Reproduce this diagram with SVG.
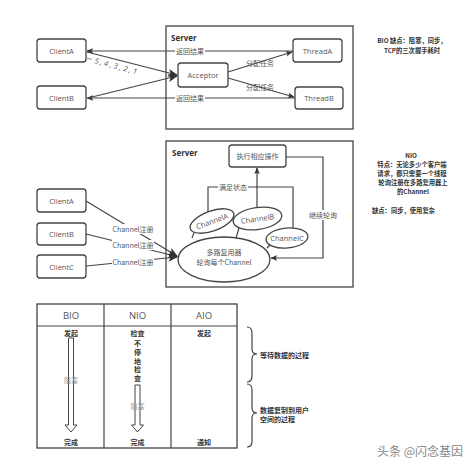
<svg xmlns="http://www.w3.org/2000/svg" width="474" height="470" viewBox="0 0 474 470">
<defs>
<style>
.t{font-family:"Open Sans","Noto Sans CJK SC",sans-serif;fill:#555;font-size:7.5px;text-anchor:middle}
.c{font-family:"Noto Sans CJK SC","Open Sans",sans-serif;fill:#555;font-size:7px;text-anchor:middle}
.b{font-family:"Noto Sans CJK SC","Open Sans",sans-serif;fill:#333;font-size:7px;font-weight:bold;text-anchor:middle}
.n{font-family:"Noto Sans CJK SC","Open Sans",sans-serif;fill:#333;font-size:6.3px;font-weight:bold;text-anchor:middle}
.srv{font-family:"Open Sans","DejaVu Sans",sans-serif;fill:#333;font-size:8px;font-weight:bold}
.box{fill:#fff;stroke:#444;stroke-width:1.3}
.frame{fill:none;stroke:#444;stroke-width:1.3}
.ln{fill:none;stroke:#444;stroke-width:1.2}
.bg{fill:#fff}
</style>
<marker id="ah" viewBox="0 0 10 10" refX="9" refY="5" markerWidth="7" markerHeight="7" markerUnits="userSpaceOnUse" orient="auto">
<path d="M0,1 L10,5 L0,9 L2.5,5 z" fill="#333"/>
</marker>
<marker id="ahb" viewBox="0 0 10 10" refX="9" refY="5" markerWidth="10" markerHeight="10" markerUnits="userSpaceOnUse" orient="auto">
<path d="M0,1 L10,5 L0,9 L2.5,5 z" fill="#333"/>
</marker>
</defs>
<rect width="474" height="470" fill="#fff"/>

<!-- ===== BIO section ===== -->
<g id="server1"><rect class="frame" x="166" y="26" width="187" height="103"/><text class="srv" x="171" y="41">Server</text></g>
<g id="connectors1">
<line class="ln" x1="293" y1="51" x2="87" y2="51" marker-end="url(#ah)"/>
<line class="ln" x1="295" y1="98" x2="87" y2="98" marker-end="url(#ah)"/>
<line class="ln" x1="228" y1="72" x2="292" y2="52" marker-end="url(#ah)"/>
<line class="ln" x1="228" y1="78" x2="294" y2="97" marker-end="url(#ah)"/>
<line class="ln" x1="87" y1="52" x2="177" y2="75" marker-end="url(#ahb)"/>
<line class="ln" x1="88" y1="98" x2="177" y2="76" marker-end="url(#ahb)"/>
<rect class="bg" x="175" y="46" width="30" height="10"/>
<text class="c" x="190" y="54">返回结果</text>
<rect class="bg" x="175" y="93" width="30" height="10"/>
<text class="c" x="190" y="101">返回结果</text>
<text class="c" x="260" y="66">分配任务</text>
<text class="c" x="260" y="90">分配任务</text>
<line x1="87" y1="58" x2="92" y2="59.5" stroke="#777" stroke-width="0.8"/>
<text class="t" x="94" y="63" transform="rotate(15 94 63)" style="text-anchor:start;font-style:italic">5 , 4 , 3 , 2 , 1</text>
</g>
<g id="clientA1"><rect class="box" x="37" y="39" width="49" height="23" rx="3"/><text class="t" x="61.5" y="53.5">ClientA</text></g>
<g id="clientB1"><rect class="box" x="37" y="86" width="49" height="23" rx="3"/><text class="t" x="61.5" y="100.5">ClientB</text></g>
<g id="acceptor"><rect class="box" x="178" y="63" width="50" height="24" rx="3"/><text class="t" x="203" y="78">Acceptor</text></g>
<g id="threadA"><rect class="box" x="293" y="39" width="49" height="23" rx="3"/><text class="t" x="317.5" y="53.5">ThreadA</text></g>
<g id="threadB"><rect class="box" x="295" y="87" width="48" height="22" rx="3"/><text class="t" x="319" y="101">ThreadB</text></g>
<g id="bioNote">
<text class="n" x="412" y="43">BIO 缺点：阻塞，同步，</text>
<text class="n" x="412" y="52.5">TCP的三次握手耗时</text>
</g>

<!-- ===== NIO section ===== -->
<g id="server2"><rect class="frame" x="166" y="141" width="187" height="146"/><text class="srv" x="172" y="156">Server</text></g>
<g id="connectors2">
<line class="ln" x1="86" y1="201" x2="177" y2="256" marker-end="url(#ahb)"/>
<line class="ln" x1="86" y1="234" x2="177" y2="256.5" marker-end="url(#ahb)"/>
<line class="ln" x1="86" y1="266" x2="177" y2="257" marker-end="url(#ahb)"/>
<rect class="bg" x="112" y="224" width="42" height="10"/>
<text class="c" x="133" y="232">Channel注册</text>
<rect class="bg" x="112" y="240" width="42" height="10"/>
<text class="c" x="133" y="248">Channel注册</text>
<rect class="bg" x="112" y="257" width="42" height="10"/>
<text class="c" x="133" y="265">Channel注册</text>
<polyline class="ln" points="208,213 208,187 293,187 293,229"/>
<rect class="bg" x="218" y="182" width="30" height="10"/>
<text class="c" x="233" y="190">满足状态</text>
<line class="ln" x1="257" y1="207" x2="257" y2="168" marker-end="url(#ah)"/>
<polyline class="ln" points="286,157 323,157 323,258 271,258" marker-end="url(#ah)"/>
<rect class="bg" x="308" y="210" width="30" height="10"/>
<text class="c" x="323" y="218">继续轮询</text>
<line class="ln" x1="195" y1="230" x2="192" y2="238"/>
<line class="ln" x1="239" y1="228" x2="236" y2="238"/>
<line class="ln" x1="271" y1="244" x2="267" y2="248"/>
</g>
<g id="exec"><rect class="box" x="229" y="145" width="57" height="22" rx="3"/><text class="c" x="257.5" y="159">执行相应操作</text></g>
<g id="clientA2"><rect class="box" x="37" y="189" width="49" height="23" rx="3"/><text class="t" x="61.5" y="203.5">ClientA</text></g>
<g id="clientB2"><rect class="box" x="37" y="223" width="49" height="22" rx="3"/><text class="t" x="61.5" y="237">ClientB</text></g>
<g id="clientC2"><rect class="box" x="37" y="255" width="49" height="23" rx="3"/><text class="t" x="61.5" y="269.5">ClientC</text></g>
<g id="selector"><ellipse class="box" cx="224" cy="259.5" rx="46" ry="22.5"/><text class="c" x="224" y="255">多路复用器</text><text class="c" x="224" y="265">轮询每个Channel</text></g>
<g id="channelA"><ellipse class="box" cx="212" cy="221" rx="23" ry="10" transform="rotate(-20 212 221)"/><text class="t" x="212" y="224" transform="rotate(-20 212 221)">ChannelA</text></g>
<g id="channelB"><ellipse class="box" cx="257.5" cy="218.5" rx="24.5" ry="11" transform="rotate(-8 257.5 218.5)"/><text class="t" x="257.5" y="221.5" transform="rotate(-8 257.5 218.5)">ChannelB</text></g>
<g id="channelC"><ellipse class="box" cx="287" cy="238" rx="21" ry="10" transform="rotate(-5 287 238)"/><text class="t" x="287" y="241">ChannelC</text></g>
<g id="nioNote">
<text class="n" x="411" y="158">NIO</text>
<text class="n" x="412" y="167">特点：无论多少个客户端</text>
<text class="n" x="412" y="176">请求，都只需要一个线程</text>
<text class="n" x="413" y="185">轮询注册在多路复用器上</text>
<text class="n" x="413" y="194">的Channel</text>
<text class="n" x="372" y="213" style="text-anchor:start">缺点：同步，使用复杂</text>
</g>

<!-- ===== Table ===== -->
<g id="table">
<rect class="frame" x="37" y="304" width="200" height="144"/>
<line class="ln" x1="37" y1="326" x2="237" y2="326"/>
<line class="ln" x1="104" y1="304" x2="104" y2="448"/>
<line class="ln" x1="171" y1="304" x2="171" y2="448"/>
<text class="t" x="71" y="318.5" style="font-size:9.5px">BIO</text>
<text class="t" x="137.5" y="318.5" style="font-size:9.5px">NIO</text>
<text class="t" x="204" y="318.5" style="font-size:9.5px">AIO</text>
<text class="b" x="71" y="336">发起</text>
<text class="b" x="137.5" y="336">检查</text>
<text class="b" x="204" y="336">发起</text>
<text class="b" x="137.5" y="345.5">不</text>
<text class="b" x="137.5" y="354.5">停</text>
<text class="b" x="137.5" y="363.5">地</text>
<text class="b" x="137.5" y="372">检</text>
<text class="b" x="137.5" y="381">查</text>
<polygon points="68.5,338 73.5,338 73.5,425 77,425 71,432 65,425 68.5,425" fill="#fff" stroke="#444" stroke-width="1"/>
<polygon points="135,385 140,385 140,425 143.5,425 137.5,432 131.5,425 135,425" fill="#fff" stroke="#444" stroke-width="1"/>
<text class="c" x="71" y="383" style="fill:#999">阻塞</text>
<text class="c" x="137.5" y="409" style="fill:#999">阻塞</text>
<text class="b" x="71" y="445">完成</text>
<text class="b" x="137.5" y="445">完成</text>
<text class="b" x="204" y="445">通知</text>
</g>
<g id="braces">
<path class="ln" d="M247,327 Q252,327 252,333 L252,349 Q252,354 257,354 Q252,354 252,359 L252,376 Q252,382 247,382"/>
<path class="ln" d="M247,384 Q252,384 252,390 L252,408 Q252,413 257,413 Q252,413 252,418 L252,441 Q252,447 247,447"/>
<text class="b" x="260" y="357.5" style="text-anchor:start">等待数据的过程</text>
<text class="b" x="260" y="413" style="text-anchor:start">数据复制到用户</text>
<text class="b" x="260" y="421.5" style="text-anchor:start">空间的过程</text>
</g>
<text x="377" y="456" style="font-family:'Noto Sans CJK SC',sans-serif;font-size:12px;fill:#888">头条 @闪念基因</text>
</svg>
